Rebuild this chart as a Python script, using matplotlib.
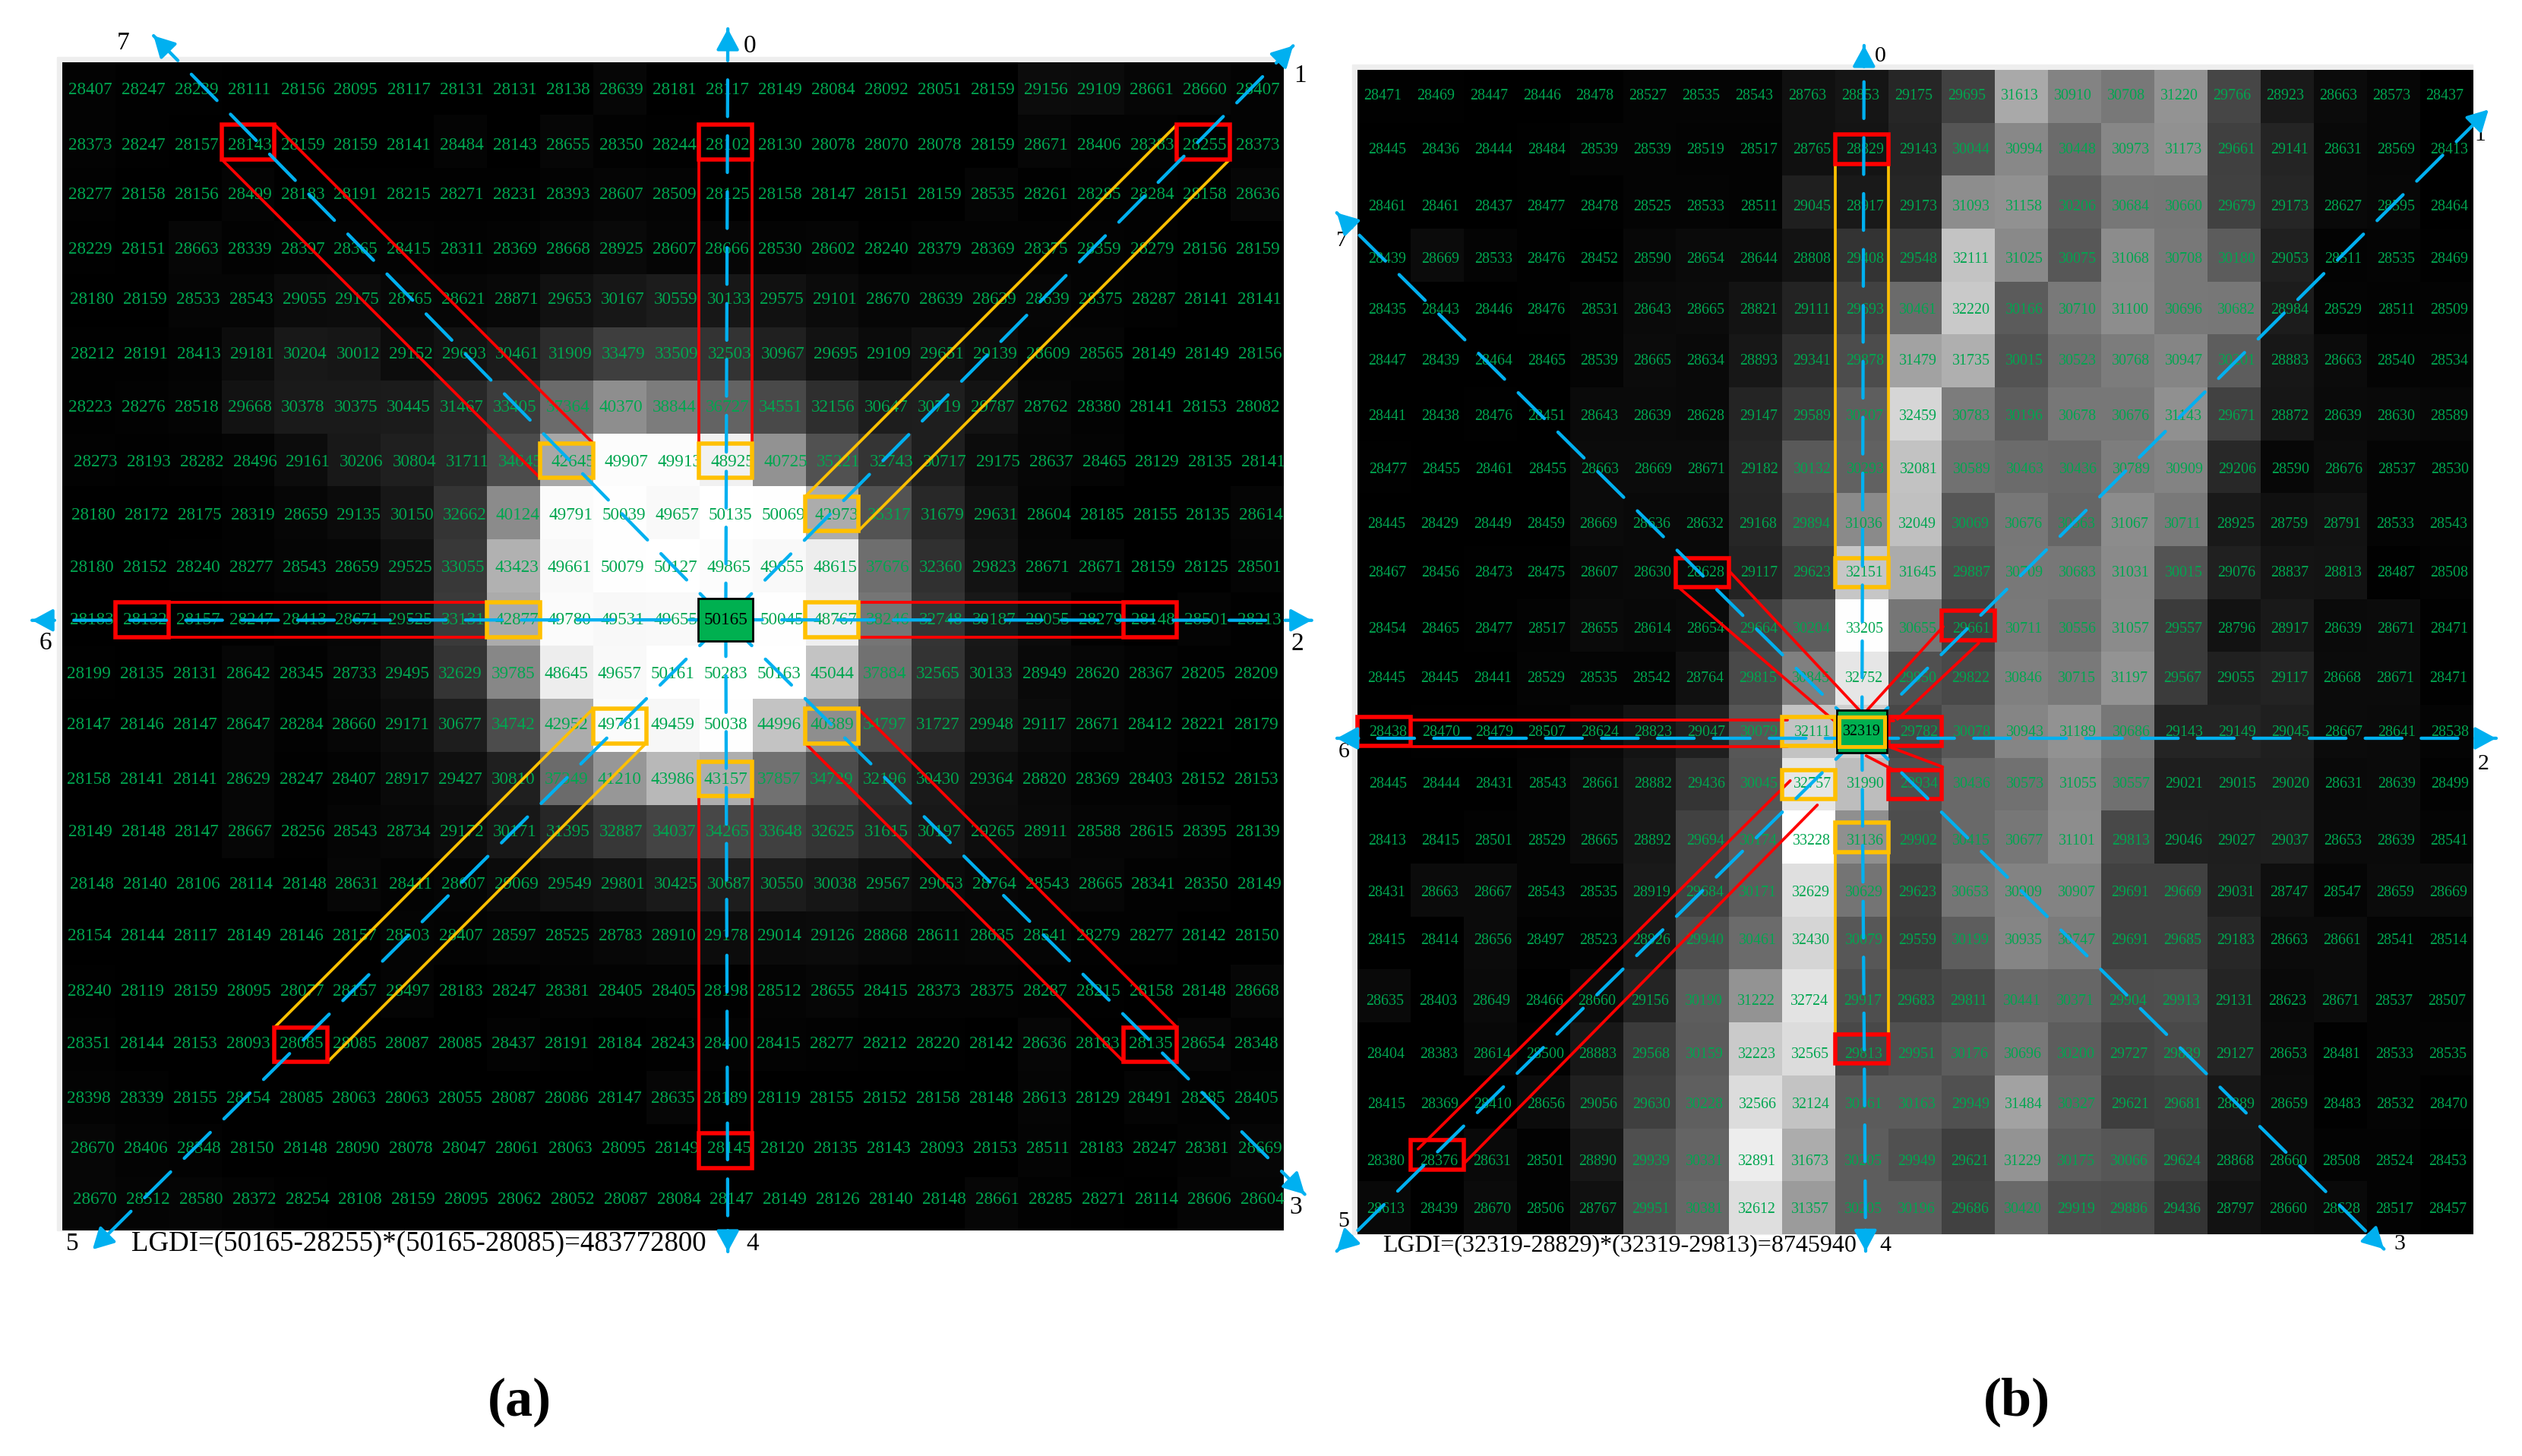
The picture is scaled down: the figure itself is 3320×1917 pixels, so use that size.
import numpy as np
import matplotlib
matplotlib.use('Agg')
import matplotlib.pyplot as plt
from matplotlib.patches import Rectangle

plt.rcParams['font.family'] = ['Liberation Serif', 'DejaVu Serif']

# gray values, rows top to bottom
values_a = [
    [28407, 28247, 28239, 28111, 28156, 28095, 28117, 28131, 28131, 28138, 28639, 28181, 28117, 28149, 28084, 28092, 28051, 28159, 29156, 29109, 28661, 28660, 28407],
    [28373, 28247, 28157, 28143, 28159, 28159, 28141, 28484, 28143, 28655, 28350, 28244, 28102, 28130, 28078, 28070, 28078, 28159, 28671, 28406, 28383, 28255, 28373],
    [28277, 28158, 28156, 28499, 28183, 28191, 28215, 28271, 28231, 28393, 28607, 28509, 28125, 28158, 28147, 28151, 28159, 28535, 28261, 28285, 28284, 28158, 28636],
    [28229, 28151, 28663, 28339, 28397, 28365, 28415, 28311, 28369, 28668, 28925, 28607, 28666, 28530, 28602, 28240, 28379, 28369, 28375, 28359, 28279, 28156, 28159],
    [28180, 28159, 28533, 28543, 29055, 29175, 28765, 28621, 28871, 29653, 30167, 30559, 30133, 29575, 29101, 28670, 28639, 28639, 28639, 28375, 28287, 28141, 28141],
    [28212, 28191, 28413, 29181, 30204, 30012, 29152, 29693, 30461, 31909, 33479, 33509, 32503, 30967, 29695, 29109, 29651, 29139, 28609, 28565, 28149, 28149, 28156],
    [28223, 28276, 28518, 29668, 30378, 30375, 30445, 31467, 33405, 37364, 40370, 38844, 36727, 34551, 32156, 30647, 30719, 29787, 28762, 28380, 28141, 28153, 28082],
    [28273, 28193, 28282, 28496, 29161, 30206, 30804, 31711, 34645, 42645, 49907, 49913, 48925, 40725, 35221, 32743, 30717, 29175, 28637, 28465, 28129, 28135, 28141],
    [28180, 28172, 28175, 28319, 28659, 29135, 30150, 32662, 40124, 49791, 50039, 49657, 50135, 50069, 42973, 35317, 31679, 29631, 28604, 28185, 28155, 28135, 28614],
    [28180, 28152, 28240, 28277, 28543, 28659, 29525, 33055, 43423, 49661, 50079, 50127, 49865, 49655, 48615, 37676, 32360, 29823, 28671, 28671, 28159, 28125, 28501],
    [28183, 28132, 28157, 28247, 28413, 28671, 29525, 33131, 42877, 49780, 49531, 49655, 50165, 50045, 48767, 38246, 32748, 30187, 29055, 28279, 28148, 28501, 28213],
    [28199, 28135, 28131, 28642, 28345, 28733, 29495, 32629, 39785, 48645, 49657, 50161, 50283, 50163, 45044, 37884, 32565, 30133, 28949, 28620, 28367, 28205, 28209],
    [28147, 28146, 28147, 28647, 28284, 28660, 29171, 30677, 34742, 42952, 49781, 49459, 50038, 44996, 40389, 34797, 31727, 29948, 29117, 28671, 28412, 28221, 28179],
    [28158, 28141, 28141, 28629, 28247, 28407, 28917, 29427, 30810, 37349, 41210, 43986, 43157, 37857, 34729, 32196, 30430, 29364, 28820, 28369, 28403, 28152, 28153],
    [28149, 28148, 28147, 28667, 28256, 28543, 28734, 29172, 30171, 31395, 32887, 34037, 34265, 33648, 32625, 31615, 30197, 29265, 28911, 28588, 28615, 28395, 28139],
    [28148, 28140, 28106, 28114, 28148, 28631, 28411, 28607, 29069, 29549, 29801, 30425, 30687, 30550, 30038, 29567, 29053, 28764, 28543, 28665, 28341, 28350, 28149],
    [28154, 28144, 28117, 28149, 28146, 28157, 28503, 28407, 28597, 28525, 28783, 28910, 29178, 29014, 29126, 28868, 28611, 28635, 28541, 28279, 28277, 28142, 28150],
    [28240, 28119, 28159, 28095, 28077, 28157, 28497, 28183, 28247, 28381, 28405, 28405, 28198, 28512, 28655, 28415, 28373, 28375, 28287, 28215, 28158, 28148, 28668],
    [28351, 28144, 28153, 28093, 28085, 28085, 28087, 28085, 28437, 28191, 28184, 28243, 28400, 28415, 28277, 28212, 28220, 28142, 28636, 28183, 28135, 28654, 28348],
    [28398, 28339, 28155, 28154, 28085, 28063, 28063, 28055, 28087, 28086, 28147, 28635, 28189, 28119, 28155, 28152, 28158, 28148, 28613, 28129, 28491, 28285, 28405],
    [28670, 28406, 28348, 28150, 28148, 28090, 28078, 28047, 28061, 28063, 28095, 28149, 28145, 28120, 28135, 28143, 28093, 28153, 28511, 28183, 28247, 28381, 28669],
    [28670, 28512, 28580, 28372, 28254, 28108, 28159, 28095, 28062, 28052, 28087, 28084, 28147, 28149, 28126, 28140, 28148, 28661, 28285, 28271, 28114, 28606, 28604],
]

# gray values
values_b = [
    [28471, 28469, 28447, 28446, 28478, 28527, 28535, 28543, 28763, 28853, 29175, 29695, 31613, 30910, 30708, 31220, 29766, 28923, 28663, 28573, 28437],
    [28445, 28436, 28444, 28484, 28539, 28539, 28519, 28517, 28765, 28829, 29143, 30044, 30994, 30448, 30973, 31173, 29661, 29141, 28631, 28569, 28413],
    [28461, 28461, 28437, 28477, 28478, 28525, 28533, 28511, 29045, 28917, 29173, 31093, 31158, 30206, 30684, 30660, 29679, 29173, 28627, 28595, 28464],
    [28439, 28669, 28533, 28476, 28452, 28590, 28654, 28644, 28808, 29408, 29548, 32111, 31025, 30075, 31068, 30708, 30180, 29053, 28511, 28535, 28469],
    [28435, 28443, 28446, 28476, 28531, 28643, 28665, 28821, 29111, 29693, 30461, 32220, 30166, 30710, 31100, 30696, 30682, 28984, 28529, 28511, 28509],
    [28447, 28439, 28464, 28465, 28539, 28665, 28634, 28893, 29341, 29878, 31479, 31735, 30015, 30523, 30768, 30947, 30201, 28883, 28663, 28540, 28534],
    [28441, 28438, 28476, 28451, 28643, 28639, 28628, 29147, 29589, 30207, 32459, 30783, 30196, 30678, 30676, 31143, 29671, 28872, 28639, 28630, 28589],
    [28477, 28455, 28461, 28455, 28663, 28669, 28671, 29182, 30132, 30293, 32081, 30589, 30463, 30436, 30789, 30909, 29206, 28590, 28676, 28537, 28530],
    [28445, 28429, 28449, 28459, 28669, 28636, 28632, 29168, 29894, 31036, 32049, 30069, 30676, 30363, 31067, 30711, 28925, 28759, 28791, 28533, 28543],
    [28467, 28456, 28473, 28475, 28607, 28630, 28628, 29117, 29623, 32151, 31645, 29887, 30709, 30683, 31031, 30015, 29076, 28837, 28813, 28487, 28508],
    [28454, 28465, 28477, 28517, 28655, 28614, 28654, 29664, 30204, 33205, 30655, 29661, 30711, 30556, 31057, 29557, 28796, 28917, 28639, 28671, 28471],
    [28445, 28445, 28441, 28529, 28535, 28542, 28764, 29815, 30845, 32752, 29950, 29822, 30846, 30715, 31197, 29567, 29055, 29117, 28668, 28671, 28471],
    [28438, 28470, 28479, 28507, 28624, 28823, 29047, 30079, 32111, 32319, 29782, 30078, 30943, 31189, 30686, 29143, 29149, 29045, 28667, 28641, 28538],
    [28445, 28444, 28431, 28543, 28661, 28882, 29436, 30045, 32757, 31990, 29934, 30436, 30573, 31055, 30557, 29021, 29015, 29020, 28631, 28639, 28499],
    [28413, 28415, 28501, 28529, 28665, 28892, 29694, 30174, 33228, 31136, 29902, 30415, 30677, 31101, 29813, 29046, 29027, 29037, 28653, 28639, 28541],
    [28431, 28663, 28667, 28543, 28535, 28919, 29684, 30171, 32629, 30629, 29623, 30653, 30909, 30907, 29691, 29669, 29031, 28747, 28547, 28659, 28669],
    [28415, 28414, 28656, 28497, 28523, 28926, 29940, 30461, 32430, 30079, 29559, 30199, 30935, 30747, 29691, 29685, 29183, 28663, 28661, 28541, 28514],
    [28635, 28403, 28649, 28466, 28660, 29156, 30190, 31222, 32724, 29917, 29683, 29811, 30441, 30371, 29904, 29913, 29131, 28623, 28671, 28537, 28507],
    [28404, 28383, 28614, 28500, 28883, 29568, 30159, 32223, 32565, 29813, 29951, 30176, 30696, 30200, 29727, 29839, 29127, 28653, 28481, 28533, 28535],
    [28415, 28369, 28410, 28656, 29056, 29630, 30228, 32566, 32124, 30161, 30163, 29949, 31484, 30327, 29621, 29681, 28889, 28659, 28483, 28532, 28470],
    [28380, 28376, 28631, 28501, 28890, 29939, 30331, 32891, 31673, 30205, 29949, 29621, 31229, 30175, 30066, 29624, 28868, 28660, 28508, 28524, 28453],
    [28613, 28439, 28670, 28506, 28767, 29951, 30381, 32612, 31357, 30205, 30196, 29686, 30420, 29919, 29886, 29436, 28797, 28660, 28628, 28517, 28457],
]

formula_a = 'LGDI=(50165-28255)*(50165-28085)=483772800'
formula_b = 'LGDI=(32319-28829)*(32319-29813)=8745940'
direction_labels = ['0', '1', '2', '3', '4', '5', '6', '7']

RED = '#FF0000'
ORANGE = '#FFC000'
BLUE = '#00B0F0'
GREEN = '#00B050'
TEXT_GREEN = '#00A650'
W, H = 3320, 1917

# the numbers were pasted by hand in the original, each row sits a bit off centre (pixels)
shift_x_a = [2, 2, 2, 2, 4, 5, 2, 9, 6, 4, 4, 0, 0, 0, 2, 4, 1, 1, 0, 0, 5, 8]
shift_y_a = [2, 5, 0, 2, -2, 0, 0, 2, 2, 1, 0, 2, -1, 1, 0, -1, -3, 0, -1, 1, -3, -6]
shift_x_b = [-2, 4, 4, 4, 4, 4, 4, 5, 3, 4, 4, 3, 5, 5, 4, 3, 3, 1, 2, 3, 2, 2]
shift_y_b = [0, 1, 6, 6, 3, 0, 4, 4, 6, 1, 5, 0, 1, 0, 5, 3, -3, 7, 7, 4, 9, 2]


def panel_axes(fig, x0, y0, x1, y1):
    return fig.add_axes([x0 / W, 1 - y1 / H, (x1 - x0) / W, (y1 - y0) / H])


def draw_grid(ax, values, vmin, vmax, fontsize, center, shift_x, shift_y, cell_px):
    data = np.array(values)
    rows, cols = data.shape
    ax.imshow(data, cmap='gray', vmin=vmin, vmax=vmax, aspect='auto', interpolation='nearest')
    ax.autoscale(False)  # overlays run past the image, keep the limits on the cells
    ax.axis('off')
    ax.add_patch(Rectangle((-0.6, -0.6), cols + 0.1, rows + 0.1, color='#eeeeee', zorder=-1, clip_on=False))
    for r in range(rows):
        for c in range(cols):
            if (c, r) == center:
                continue
            ax.text(c + shift_x[r] / cell_px, r + shift_y[r] / cell_px, str(data[r, c]), color=TEXT_GREEN,
                    fontsize=fontsize, ha='center', va='center', zorder=2)


def box(ax, cell, color, h):
    c, r = cell
    ax.add_patch(Rectangle((c - 0.5, r - h / 2), 1, h, fill=False, edgecolor=color, linewidth=4,
                           zorder=4, clip_on=False))


def seg(ax, p, q, color, lw=2.7):
    ax.plot([p[0], q[0]], [p[1], q[1]], color=color, lw=lw, zorder=3, clip_on=False, solid_capstyle='round')


def link(ax, a, b, color, h):
    # two lines joining the matching corners of two boxes
    dx = np.sign(b[0] - a[0])
    dy = np.sign(b[1] - a[1])
    if dx == 0:
        pairs = [(-0.5, 0), (0.5, 0)]
    elif dy == 0:
        pairs = [(0, -h / 2), (0, h / 2)]
    elif dx == dy:
        pairs = [(0.5, -h / 2), (-0.5, h / 2)]
    else:
        pairs = [(-0.5, -h / 2), (0.5, h / 2)]
    for ox, oy in pairs:
        seg(ax, (a[0] + ox, a[1] + oy), (b[0] + ox, b[1] + oy), color)


def arrow(ax, start, tip):
    ax.plot([start[0], tip[0]], [start[1], tip[1]], color=BLUE, lw=3.1, dashes=(11.2, 5.9), zorder=5,
            clip_on=False, dash_capstyle='round')
    d = np.array(tip) - np.array(start)
    d = d / np.hypot(*d)
    ax.annotate('', xy=tip, xytext=tuple(np.array(tip) - d * 0.4), annotation_clip=False, zorder=5,
                arrowprops=dict(arrowstyle='-|>,head_length=0.7,head_width=0.38', color=BLUE, lw=2.9,
                                mutation_scale=24, shrinkA=0, shrinkB=0))


def center_cell(ax, cell, w, h, value, fontsize):
    c, r = cell
    ax.add_patch(Rectangle((c - w / 2, r - h / 2), w, h, facecolor=GREEN, edgecolor='black', linewidth=2,
                           zorder=6, clip_on=False))
    ax.text(c, r, str(value), color='black', fontsize=fontsize, ha='center', va='center', zorder=8)


fig = plt.figure(figsize=(W / 100, H / 100), dpi=100, facecolor='white')

# panel (a)
ax = panel_axes(fig, 82, 82, 1689, 1620)
draw_grid(ax, values_a, 28100, 50200, 16.7, (12, 10), shift_x_a, shift_y_a, 69.9)
h = 0.65
for outer, inner, color in [((3, 1), (9, 7), RED), ((12, 1), (12, 7), RED), ((21, 1), (14, 8), ORANGE),
                            ((20, 10), (14, 10), RED), ((20, 18), (14, 12), RED), ((12, 20), (12, 13), RED),
                            ((4, 18), (10, 12), ORANGE), ((1, 10), (8, 10), RED)]:
    link(ax, outer, inner, color, h)
    box(ax, outer, RED, h)
    box(ax, inner, ORANGE, h)
tips_a = [(12.04, -1.13), (22.69, -0.81), (23.04, 10.01), (22.91, 20.82),
          (12.04, 21.90), (0.07, 21.86), (-1.07, 10.01), (1.22, -1.0)]
label_pos_a = [(12.45, -0.81), (22.82, -0.24), (22.77, 10.46), (22.74, 21.07),
               (12.51, 21.76), (-0.31, 21.76), (-0.81, 10.44), (0.64, -0.86)]
for tip, pos, name in zip(tips_a, label_pos_a, direction_labels):
    arrow(ax, (12.0, 10.0), tip)
    ax.text(pos[0], pos[1], name, fontsize=24, ha='center', va='center', clip_on=False, color='black')
center_cell(ax, (12, 10), 1.03, 0.8, values_a[10][12], 16.7)

# panel (b)
ax = panel_axes(fig, 1787, 92, 3255, 1625)
draw_grid(ax, values_b, 28450, 33230, 14.4, (9, 12), shift_x_b, shift_y_b, 69.8)
h = 0.55
link(ax, (9, 1), (9, 9), ORANGE, h)
link(ax, (9, 18), (9, 14), ORANGE, h)
for p, q in [((6.51, 8.98), (8.99, 11.64)), ((5.55, 9.28), (8.48, 11.80)),
             ((10.53, 10.02), (9.06, 11.64)), ((11.2, 10.33), (9.67, 11.77)),
             ((9.5, 11.8), (9.6, 11.8)), ((9.5, 12.27), (9.6, 12.27)),
             ((9.46, 12.27), (10.52, 12.67)), ((9.08, 12.46), (9.56, 12.71)),
             ((7.65, 12.93), (0.64, 19.89)), ((8.16, 13.39), (1.53, 20.14)),
             ((0.54, 11.78), (7.6, 11.78)), ((0.54, 12.28), (7.6, 12.28))]:
    seg(ax, p, q, RED)
for cell in [(9, 1), (6, 9), (11, 10), (10, 12), (10, 13), (9, 18), (1, 20), (0, 12)]:
    box(ax, cell, RED, h)
for cell in [(9, 9), (8, 12), (8, 13), (9, 14)]:
    box(ax, cell, ORANGE, h)
tips_b = [(9.04, -0.96), (20.80, 0.25), (20.94, 12.13), (18.83, 21.78),
          (9.07, 21.82), (-0.89, 21.82), (-0.89, 12.13), (-0.89, 2.20)]
label_pos_b = [(9.34, -0.76), (20.64, 0.73), (20.70, 12.61), (19.13, 21.68),
               (9.44, 21.71), (-0.76, 21.26), (-0.76, 12.38), (-0.79, 2.73)]
for tip, pos, name in zip(tips_b, label_pos_b, direction_labels):
    start = (9.0, 12.13) if name in ('2', '6') else (9.0, 12.04)
    arrow(ax, start, tip)
    ax.text(pos[0], pos[1], name, fontsize=21.5, ha='center', va='center', clip_on=False, color='black')
center_cell(ax, (9, 12), 0.95, 0.79, values_b[12][9], 14.4)
ax.add_patch(Rectangle((8.57, 11.72), 0.86, 0.56, fill=False, edgecolor=ORANGE, linewidth=3.6, zorder=7))

fig.text(173 / W, 1 - 1638 / H, formula_a, fontsize=26.6, ha='left', va='center', color='black')
fig.text(1820 / W, 1 - 1640 / H, formula_b, fontsize=23, ha='left', va='center', color='black')
fig.text(684 / W, 1 - 1846 / H, '(a)', fontsize=52, fontweight='bold', ha='center', va='center')
fig.text(2655 / W, 1 - 1846 / H, '(b)', fontsize=52, fontweight='bold', ha='center', va='center')

fig.savefig('out.png', dpi=100)
